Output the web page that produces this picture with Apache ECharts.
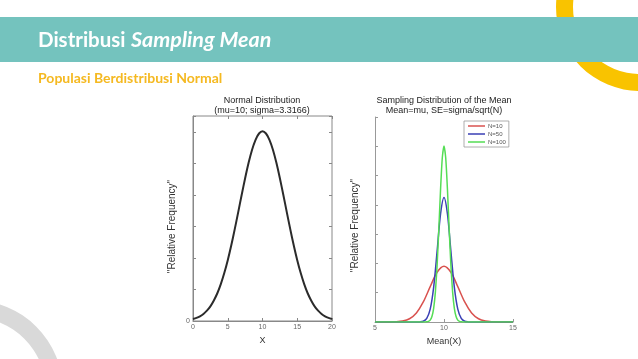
<!DOCTYPE html>
<html><head><meta charset="utf-8">
<script src="https://cdn.jsdelivr.net/npm/echarts@6/dist/echarts.min.js"></script>
<style>html,body{margin:0;padding:0;background:#fff}#c{width:638px;height:359px}</style>
</head><body><div id="c"></div>
<script>
// Left chart: Normal distribution (mu=10, sigma=3.3166)
const normX = [0,0.5,1,1.5,2,2.5,3,3.5,4,4.5,5,5.5,6,6.5,7,7.5,8,8.5,9,9.5,10,10.5,11,11.5,12,12.5,13,13.5,14,14.5,15,15.5,16,16.5,17,17.5,18,18.5,19,19.5,20];
const normY = [0.0013,0.0020,0.0030,0.0045,0.0066,0.0093,0.0130,0.0176,0.0234,0.0304,0.0386,0.0479,0.0581,0.0689,0.0799,0.0905,0.1003,0.1086,0.1149,0.1189,0.1203,0.1189,0.1149,0.1086,0.1003,0.0905,0.0799,0.0689,0.0581,0.0479,0.0386,0.0304,0.0234,0.0176,0.0130,0.0093,0.0066,0.0045,0.0030,0.0020,0.0013];

// Right chart: sampling distribution of the mean
const n10X = [5,5.5,6,6.5,7,7.5,8,8.5,9,9.5,10,10.5,11,11.5,12,12.5,13,13.5,14,14.5,15];
const n10Y = [0,0,0.0003,0.0015,0.0064,0.0222,0.0617,0.1368,0.2415,0.3395,0.3804,0.3395,0.2415,0.1368,0.0617,0.0222,0.0064,0.0015,0.0003,0,0];
const n50X = [5,7,7.25,7.5,7.75,8,8.25,8.5,8.75,9,9.25,9.5,9.75,10,10.25,10.5,10.75,11,11.25,11.5,11.75,12,12.25,12.5,12.75,13,15];
const n50Y = [0,0,0,0,0,0.0001,0.0008,0.0051,0.0244,0.0876,0.2369,0.4819,0.7380,0.8506,0.7380,0.4819,0.2369,0.0876,0.0244,0.0051,0.0008,0.0001,0,0,0,0,0];
const n100X = [5,8.5,8.625,8.75,8.875,9,9.125,9.25,9.375,9.5,9.625,9.75,9.875,10,10.125,10.25,10.375,10.5,10.625,10.75,10.875,11,11.125,11.25,11.375,11.5,15];
const n100Y = [0,0,0.0002,0.0010,0.0038,0.0128,0.0371,0.0932,0.2037,0.3861,0.6347,0.9053,1.1203,1.2028,1.1203,0.9053,0.6347,0.3861,0.2037,0.0932,0.0371,0.0128,0.0038,0.0010,0.0002,0,0];
const seriesNames = ['N=10','N=50','N=100'];

const pair = (xs, ys) => xs.map((x, i) => [x, ys[i]]);
const FF = 'Liberation Sans, Arial, sans-serif';
const axisFont = {fontFamily:FF, fontSize:7, color:'#666'};
const chart = echarts.init(document.getElementById('c'), null, {renderer:'canvas'});

chart.setOption({
  animation:false,
  backgroundColor:'#fff',
  graphic:[
    {type:'ring', shape:{cx:640, cy:7, r:84, r0:67}, style:{fill:'#F9C300'}, z:1},
    {type:'ring', shape:{cx:-28, cy:391, r:91, r0:74}, style:{fill:'#D9D9D9'}, z:1},
    {type:'rect', shape:{x:0, y:17, width:638, height:45}, style:{fill:'#74C3BE'}, z:2},
    {type:'text', x:38, y:40, z:3, style:{text:'Distribusi', fill:'#fff', font:'bold 20.5px Lato, "Open Sans", sans-serif', verticalAlign:'middle'}},
    {type:'text', x:131, y:40, z:3, style:{text:'Sampling Mean', fill:'#fff', font:'italic bold 21.5px Lato, "Open Sans", sans-serif', verticalAlign:'middle'}},
    {type:'text', x:38, y:78, z:3, style:{text:'Populasi Berdistribusi Normal', fill:'#F5B921', font:'bold 14px Lato, "Open Sans", sans-serif', verticalAlign:'middle'}}
  ],
  title:[
    {text:'Normal Distribution\n(mu=10; sigma=3.3166)', left:262, top:96, textAlign:'center', padding:0,
     textStyle:{fontFamily:FF, fontSize:9, fontWeight:'normal', color:'#222', lineHeight:9.5}},
    {text:'Sampling Distribution of the Mean\nMean=mu, SE=sigma/sqrt(N)', left:444, top:96, textAlign:'center', padding:0,
     textStyle:{fontFamily:FF, fontSize:9, fontWeight:'normal', color:'#222', lineHeight:9.5}}
  ],
  legend:{
    data:seriesNames, orient:'vertical', left:464, top:121,
    icon:'rect', itemWidth:17, itemHeight:1.5, itemGap:2,
    borderColor:'#999', borderWidth:0.8, backgroundColor:'#fff', padding:[2,3,2,4],
    textStyle:{fontFamily:FF, fontSize:6, color:'#555', padding:[0,0,0,-2]}
  },
  grid:[
    {left:193, right:306, top:116, bottom:38, show:true, borderColor:'#888', borderWidth:1, backgroundColor:'transparent'},
    {left:375, right:125, top:117, bottom:37}
  ],
  xAxis:[
    {gridIndex:0, type:'value', min:0, max:20, interval:5, name:'X', nameLocation:'middle', nameGap:9,
     nameTextStyle:{fontFamily:FF, fontSize:9, color:'#333'},
     axisLine:{onZero:false, lineStyle:{color:'#888'}}, axisTick:{inside:true, length:3, lineStyle:{color:'#888'}},
     axisLabel:Object.assign({margin:3}, axisFont), splitLine:{show:false}},
    {gridIndex:0, type:'value', min:0, max:20, interval:5, position:'top',
     axisLine:{show:false, onZero:false}, axisTick:{inside:true, length:3, lineStyle:{color:'#888'}},
     axisLabel:{show:false}, splitLine:{show:false}},
    {gridIndex:1, type:'value', min:5, max:15, interval:5, name:'Mean(X)', nameLocation:'middle', nameGap:9,
     nameTextStyle:{fontFamily:FF, fontSize:9, color:'#333'},
     axisLine:{onZero:false, lineStyle:{color:'#999'}}, axisTick:{inside:true, length:3, lineStyle:{color:'#999'}},
     axisLabel:Object.assign({margin:3}, axisFont), splitLine:{show:false}}
  ],
  yAxis:[
    {gridIndex:0, type:'value', position:'left', min:0, max:0.13, interval:0.02, name:'"Relative Frequency"', nameLocation:'middle', nameGap:16, nameRotate:90,
     nameTextStyle:{fontFamily:FF, fontSize:10, color:'#333', padding:[0,16,0,0]},
     axisLine:{onZero:false, lineStyle:{color:'#888'}}, axisTick:{inside:true, length:3, lineStyle:{color:'#888'}},
     axisLabel:Object.assign({margin:3, formatter:v => v === 0 ? '0' : ''}, axisFont), splitLine:{show:false}},
    {gridIndex:0, type:'value', position:'right', min:0, max:0.13, interval:0.02,
     axisLine:{show:false, onZero:false}, axisTick:{inside:true, length:3, lineStyle:{color:'#888'}},
     axisLabel:{show:false}, splitLine:{show:false}},
    {gridIndex:1, type:'value', position:'left', min:0, max:1.4, interval:0.2, name:'"Relative Frequency"', nameLocation:'middle', nameGap:15, nameRotate:90,
     nameTextStyle:{fontFamily:FF, fontSize:10, color:'#333', padding:[0,12,0,0]},
     axisLine:{onZero:false, lineStyle:{color:'#999'}}, axisTick:{inside:true, length:3, lineStyle:{color:'#999'}},
     axisLabel:{show:false}, splitLine:{show:false}}
  ],
  series:[
    {type:'line', xAxisIndex:0, yAxisIndex:0, data:pair(normX, normY), smooth:0.3, showSymbol:false,
     lineStyle:{color:'#2b2b2b', width:2}},
    {name:seriesNames[0], type:'line', xAxisIndex:2, yAxisIndex:2, data:pair(n10X, n10Y), smooth:0.3, showSymbol:false,
     itemStyle:{color:'#D9524F'}, lineStyle:{color:'#D9524F', width:1.5}},
    {name:seriesNames[1], type:'line', xAxisIndex:2, yAxisIndex:2, data:pair(n50X, n50Y), smooth:0.3, showSymbol:false,
     itemStyle:{color:'#3A3FB5'}, lineStyle:{color:'#3A3FB5', width:1.5}},
    {name:seriesNames[2], type:'line', xAxisIndex:2, yAxisIndex:2, data:pair(n100X, n100Y), smooth:0.2, showSymbol:false,
     itemStyle:{color:'#55DD55'}, lineStyle:{color:'#55DD55', width:1.5}}
  ]
});
</script></body></html>
